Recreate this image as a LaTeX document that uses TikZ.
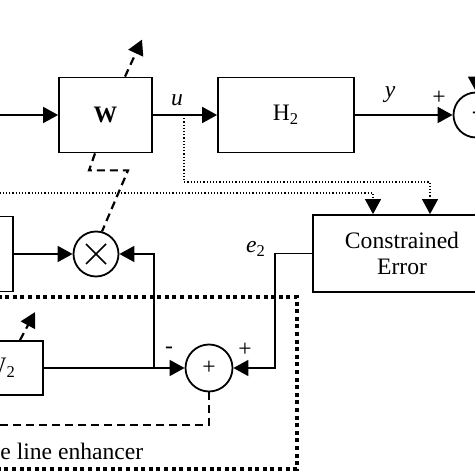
\documentclass[tikz,border=0pt]{standalone}
\usepackage{fontspec}
\setmainfont{Liberation Serif}
\usetikzlibrary{arrows.meta, positioning, calc}

\begin{document}
\begin{tikzpicture}[x=0.5pt, y=-0.5pt,
    every node/.style={font=\fontsize{11.8}{13}\selectfont},
    blk/.style={rectangle, draw, line width=0.9pt, inner sep=2pt, align=center},
    junc/.style={circle, draw, line width=0.9pt, minimum size=22.5pt, inner sep=0pt},
    arrow/.style={-{Triangle[length=7.5pt,width=8pt]}, line width=0.9pt},
    tap/.style={line width=0.6pt, dash pattern=on 0.6pt off 1pt},
    adapt/.style={line width=1.1pt, dash pattern=on 4pt off 2.5pt},
    frame/.style={line width=2pt, dash pattern=on 2pt off 1.8pt}
  ]
    \useasboundingbox (0,0) rectangle (474,474);
    % blocks
    \node[blk, minimum width=46.5pt, minimum height=37.5pt] (W) at (105.5,115) {\textbf{W}};
    \node[blk, minimum width=68pt, minimum height=37.5pt] (H2) at (286,115) {H\textsubscript{2}};
    \node[blk, minimum width=89pt, minimum height=38.5pt] (CE) at (402,253.5) {Constrained\\Error};
    \node[blk, minimum width=53pt, minimum height=37.5pt] (L) at (-40,254) {};
    \node[blk, minimum width=43pt, minimum height=27pt] (W2) at (0,368) {W\textsubscript{2}};
    % junctions
    \node[junc] (S1) at (476,115) {-};
    \node[junc] (X) at (96,254) {};
    \node[junc, minimum size=23.5pt] (S2) at (209,368) {+};
    \draw[line width=0.8pt] (X.center) +(-10,-10) -- +(10,10) (X.center) +(-10,10) -- +(10,-10);
    % free ends
    \coordinate (in) at (-10,115);
    \coordinate (s1in) at (476,40);
    \coordinate (d2) at (-10,193);
    \coordinate (eo) at (-10,425);
    \coordinate (ub) at (184,115);
    \coordinate (br) at (154,368);
    % signal path
    \draw[arrow] (in) -- (W.west);
    \draw[arrow] (W.east) -- (H2.west);
    \draw[arrow] (H2.east) -- (S1.west);
    \draw[arrow] (s1in) -- (S1.north);
    \draw[arrow] (L.east) -- (X.west);
    \draw[arrow] (W2.east) -- (S2.west);
    \draw[arrow] (br) |- (X.east);
    \draw[arrow] (CE.west) -- ++(-37,0) |- (S2.east);
    % taps into the error block
    \draw[arrow, tap] (ub) -- ++(0,67) -| ($(CE.north)+(28,0)$);
    \draw[arrow, tap] (d2) -| ($(CE.north)+(-29,0)$);
    % adaptation
    \draw[arrow, adapt] ($(W.north)+(19.5,0)$) -- ++(17,-37);
    \draw[adapt] ($(W.south)+(-10.5,0)$) -- ++(-6,17) -- ++(39,0) -- (X.75);
    \draw[arrow, adapt] ($(W2.north)+(20,0)$) -- ++(15,-28);
    \draw[adapt] (S2.south) |- (eo);
    % enhancer frame
    \draw[frame] (-10,297) -| (297,469) -- (-10,469);
    % labels
    \node (lu) at (177,100) {\textit{u}};
    \node (ly) at (390,95) {\textit{y}};
    \node (lp1) at (439,98) {+};
    \node (le2) at (256,249) {\textit{e}\textsubscript{2}};
    \node (lm2) at (169,350) {-};
    \node (lp2) at (245,350) {+};
    \node[anchor=base west, inner sep=0pt] (ale) at (0,459) {e line enhancer};
  \end{tikzpicture}
\end{document}
